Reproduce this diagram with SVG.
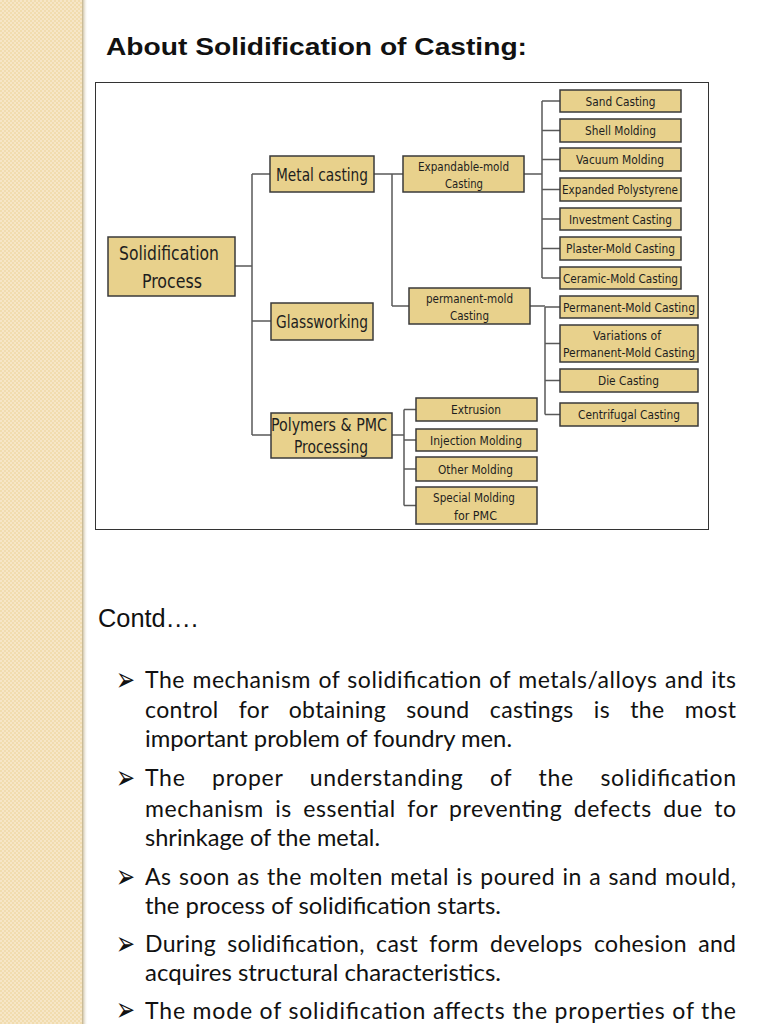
<svg xmlns="http://www.w3.org/2000/svg" width="768" height="1024" viewBox="0 0 768 1024">
<defs>
  <pattern id="dots" width="4" height="4" patternUnits="userSpaceOnUse">
    <rect width="4" height="4" fill="#f1dcae"/>
    <circle cx="1" cy="1" r="1" fill="#f8ead0"/>
    <circle cx="3" cy="3" r="1" fill="#f8ead0"/>
  </pattern>
  <linearGradient id="edge" x1="0" y1="0" x2="1" y2="0">
    <stop offset="0" stop-color="#bfae86"/>
    <stop offset="1" stop-color="#ffffff" stop-opacity="0"/>
  </linearGradient>
  <style>
    .box{fill:#e8d18c;stroke:#3a3a3a;stroke-width:1.5}
    .lbl{font-family:"DejaVu Sans Condensed","DejaVu Sans",sans-serif;fill:#1e1e1e;text-anchor:middle}
    .big{font-size:18px}
    .sm{font-size:12.5px}
    .con path{fill:none;stroke:#5a5a5a;stroke-width:1.5}
    .body{font-family:Lato,"Open Sans",sans-serif;font-size:23px;fill:#111}
    .bul{font-family:"DejaVu Sans",sans-serif;font-size:34px;fill:#111}
  </style>
</defs>
<rect width="768" height="1024" fill="#ffffff"/>
<rect x="0" y="0" width="82" height="1024" fill="url(#dots)"/>
<rect x="82" y="0" width="6" height="1024" fill="url(#edge)"/>

<text x="106" y="55" font-family="Liberation Sans,Arial,sans-serif" font-weight="bold" font-size="24" fill="#111" textLength="421" lengthAdjust="spacingAndGlyphs">About Solidification of Casting:</text>

<rect x="95.5" y="82.5" width="613" height="447" fill="none" stroke="#333" stroke-width="1"/>

<g class="con" id="connectors">
  <path d="M235,266 H252 M252,174 V435 M252,174 H270 M252,321 H271 M252,435 H271"/>
  <path d="M374,174 H392 M392,174 V306 M392,174 H403 M392,306 H409"/>
  <path d="M524,174 H542 M542,101 V278 M542,101 H560 M542,130.5 H560 M542,159.5 H560 M542,189.5 H560 M542,219 H560 M542,248.5 H560 M542,278 H560"/>
  <path d="M530,306 H545 M545,307 V414.5 M545,307 H560 M545,343.5 H560 M545,380.5 H560 M545,414.5 H560"/>
  <path d="M392,435 H404 M404,409.5 V505.5 M404,409.5 H416 M404,440 H416 M404,469 H416 M404,505.5 H416"/>
</g>

<g id="n-solid"><rect class="box" x="108" y="237" width="127" height="59"/>
  <text class="lbl" x="169" y="260" font-size="19" textLength="100" lengthAdjust="spacingAndGlyphs">Solidification</text>
  <text class="lbl" x="172" y="288" font-size="19" textLength="60" lengthAdjust="spacingAndGlyphs">Process</text></g>
<g id="n-metal"><rect class="box" x="270" y="156" width="104" height="36"/>
  <text class="lbl big" x="322" y="181" textLength="92" lengthAdjust="spacingAndGlyphs">Metal casting</text></g>
<g id="n-glass"><rect class="box" x="271" y="303" width="102" height="37"/>
  <text class="lbl big" x="322" y="328" textLength="92" lengthAdjust="spacingAndGlyphs">Glassworking</text></g>
<g id="n-poly"><rect class="box" x="271" y="413" width="121" height="45"/>
  <text class="lbl big" x="329" y="431" textLength="116" lengthAdjust="spacingAndGlyphs">Polymers &amp; PMC</text>
  <text class="lbl big" x="331" y="453" textLength="74" lengthAdjust="spacingAndGlyphs">Processing</text></g>
<g id="n-expand"><rect class="box" x="403" y="156" width="121" height="36"/>
  <text class="lbl sm" x="463.5" y="171" textLength="91" lengthAdjust="spacingAndGlyphs">Expandable-mold</text>
  <text class="lbl sm" x="464" y="188" textLength="38" lengthAdjust="spacingAndGlyphs">Casting</text></g>
<g id="n-perm"><rect class="box" x="409" y="288" width="121" height="36"/>
  <text class="lbl sm" x="469.5" y="303" textLength="87" lengthAdjust="spacingAndGlyphs">permanent-mold</text>
  <text class="lbl sm" x="469.5" y="320" textLength="39" lengthAdjust="spacingAndGlyphs">Casting</text></g>

<g id="n-sand"><rect class="box" x="560" y="90" width="121" height="22"/>
  <text class="lbl sm" x="620.5" y="105.5" textLength="70" lengthAdjust="spacingAndGlyphs">Sand Casting</text></g>
<g id="n-shell"><rect class="box" x="560" y="119" width="121" height="23"/>
  <text class="lbl sm" x="620.5" y="135" textLength="71" lengthAdjust="spacingAndGlyphs">Shell Molding</text></g>
<g id="n-vacuum"><rect class="box" x="560" y="148" width="121" height="23"/>
  <text class="lbl sm" x="620" y="164" textLength="88" lengthAdjust="spacingAndGlyphs">Vacuum Molding</text></g>
<g id="n-eps"><rect class="box" x="560" y="178" width="121" height="23"/>
  <text class="lbl sm" x="620" y="194" textLength="116" lengthAdjust="spacingAndGlyphs">Expanded Polystyrene</text></g>
<g id="n-invest"><rect class="box" x="560" y="208" width="121" height="22"/>
  <text class="lbl sm" x="620.5" y="223.5" textLength="103" lengthAdjust="spacingAndGlyphs">Investment Casting</text></g>
<g id="n-plaster"><rect class="box" x="560" y="237" width="121" height="23"/>
  <text class="lbl sm" x="620.5" y="253" textLength="109" lengthAdjust="spacingAndGlyphs">Plaster-Mold Casting</text></g>
<g id="n-ceramic"><rect class="box" x="560" y="267" width="121" height="22"/>
  <text class="lbl sm" x="620.5" y="282.5" textLength="115" lengthAdjust="spacingAndGlyphs">Ceramic-Mold Casting</text></g>

<g id="n-pmc"><rect class="box" x="560" y="296" width="138" height="22"/>
  <text class="lbl sm" x="629" y="311.5" textLength="132" lengthAdjust="spacingAndGlyphs">Permanent-Mold Casting</text></g>
<g id="n-var"><rect class="box" x="560" y="325" width="138" height="37"/>
  <text class="lbl sm" x="627" y="339.5" textLength="68" lengthAdjust="spacingAndGlyphs">Variations of</text>
  <text class="lbl sm" x="629" y="357" textLength="132" lengthAdjust="spacingAndGlyphs">Permanent-Mold Casting</text></g>
<g id="n-die"><rect class="box" x="560" y="369" width="138" height="23"/>
  <text class="lbl sm" x="628.5" y="385" textLength="61" lengthAdjust="spacingAndGlyphs">Die Casting</text></g>
<g id="n-centri"><rect class="box" x="560" y="403" width="138" height="23"/>
  <text class="lbl sm" x="629" y="419" textLength="102" lengthAdjust="spacingAndGlyphs">Centrifugal Casting</text></g>

<g id="n-extr"><rect class="box" x="416" y="398" width="121" height="23"/>
  <text class="lbl sm" x="476" y="414" textLength="50" lengthAdjust="spacingAndGlyphs">Extrusion</text></g>
<g id="n-inj"><rect class="box" x="416" y="429" width="121" height="22"/>
  <text class="lbl sm" x="476" y="444.5" textLength="92" lengthAdjust="spacingAndGlyphs">Injection Molding</text></g>
<g id="n-other"><rect class="box" x="416" y="457" width="121" height="24"/>
  <text class="lbl sm" x="475.5" y="473.5" textLength="75" lengthAdjust="spacingAndGlyphs">Other Molding</text></g>
<g id="n-special"><rect class="box" x="416" y="487" width="121" height="37"/>
  <text class="lbl sm" x="474" y="502" textLength="82" lengthAdjust="spacingAndGlyphs">Special Molding</text>
  <text class="lbl sm" x="475.5" y="519.5" textLength="43" lengthAdjust="spacingAndGlyphs">for PMC</text></g>

<text x="98" y="627" font-family="Liberation Sans,Arial,sans-serif" font-size="25" fill="#111" textLength="100" lengthAdjust="spacingAndGlyphs">Contd….</text>

<g id="bullets">
  <text class="bul" x="116" y="691" textLength="19" lengthAdjust="spacingAndGlyphs">➢</text>
  <text class="bul" x="116" y="789" textLength="19" lengthAdjust="spacingAndGlyphs">➢</text>
  <text class="bul" x="116" y="888" textLength="19" lengthAdjust="spacingAndGlyphs">➢</text>
  <text class="bul" x="116" y="955" textLength="19" lengthAdjust="spacingAndGlyphs">➢</text>
  <text class="bul" x="116" y="1021" textLength="19" lengthAdjust="spacingAndGlyphs">➢</text>
</g>
<g id="paragraphs">
  <text class="body" x="145" y="688" word-spacing="1" textLength="591" lengthAdjust="spacing">The mechanism of solidification of metals/alloys and its</text>
  <text class="body" x="145" y="718" word-spacing="14" textLength="591" lengthAdjust="spacing">control for obtaining sound castings is the most</text>
  <text class="body" x="145" y="747" textLength="367" lengthAdjust="spacingAndGlyphs">important problem of foundry men.</text>
  <text class="body" x="145" y="786" word-spacing="20" textLength="591" lengthAdjust="spacing">The proper understanding of the solidification</text>
  <text class="body" x="145" y="817" word-spacing="5" textLength="591" lengthAdjust="spacing">mechanism is essential for preventing defects due to</text>
  <text class="body" x="145" y="846" textLength="235" lengthAdjust="spacingAndGlyphs">shrinkage of the metal.</text>
  <text class="body" x="145" y="885" word-spacing="1" textLength="591" lengthAdjust="spacing">As soon as the molten metal is poured in a sand mould,</text>
  <text class="body" x="145" y="914" textLength="356" lengthAdjust="spacingAndGlyphs">the process of solidification starts.</text>
  <text class="body" x="145" y="952" word-spacing="5" textLength="591" lengthAdjust="spacing">During solidification, cast form develops cohesion and</text>
  <text class="body" x="145" y="981" textLength="356" lengthAdjust="spacingAndGlyphs">acquires structural characteristics.</text>
  <text class="body" x="145" y="1019" word-spacing="0" textLength="591" lengthAdjust="spacing">The mode of solidification affects the properties of the</text>
</g>
</svg>
